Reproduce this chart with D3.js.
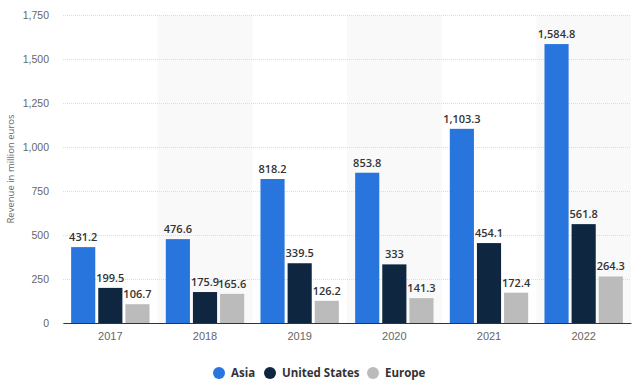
<!DOCTYPE html>
<html><head><meta charset="utf-8">
<script src="https://cdn.jsdelivr.net/npm/d3@7"></script>
<style>body{margin:0;background:#fff;}svg{display:block;font-family:"Open Sans","Noto Sans",sans-serif;}</style>
</head><body>
<svg id="c" width="640" height="390"></svg>
<script>
const years = ["2017","2018","2019","2020","2021","2022"];
const seriesNames = ["Asia","United States","Europe"];
const asia = [431.2,476.6,818.2,853.8,1103.3,1584.8];
const unitedStates = [199.5,175.9,339.5,333,454.1,561.8];
const europe = [106.7,165.6,126.2,141.3,172.4,264.3];
const yTicks = [0,250,500,750,1000,1250,1500,1750];
const colors = ["#2876dd","#0f2640","#bbbbbb"];

const svg = d3.select("#c");
const L=63, R=631, T=15, B=323;
const x = d3.scaleBand().domain(years).range([L,R]);
const y = d3.scaleLinear().domain([0,1750]).range([B,T]);
const x1 = d3.scaleBand().domain(seriesNames).range([0,x.bandwidth()]).paddingInner(0.11).paddingOuter(0.3);
const fmt = d3.format(",");

// alternating bands
svg.append("g").selectAll("rect").data(years.filter((d,i)=>i%2===1)).join("rect")
  .attr("x",d=>x(d)).attr("y",T).attr("width",x.bandwidth()).attr("height",B-T).attr("fill","#f9f9f9");

// grid
const ya = d3.axisLeft(y).tickValues(yTicks).tickFormat(d=>fmt(d)).tickSize(-(R-L)).tickPadding(10);
const gy = svg.append("g").attr("transform",`translate(${L},0)`).call(ya);
gy.select(".domain").remove();
gy.selectAll(".tick line").attr("stroke","#dcdcdc").attr("stroke-dasharray","1,1");
gy.selectAll(".tick text").attr("fill","#666").attr("font-size","10.5px").attr("text-anchor","end").attr("dx","-4");

// y title
svg.append("text").attr("transform",`translate(14,${(T+B)/2}) rotate(-90)`).attr("text-anchor","middle")
  .attr("fill","#666").attr("font-size","9.5px").text("Revenue in million euros");

const data = years.map((yr,i)=>({year:yr, vals:[asia[i],unitedStates[i],europe[i]]}));
const groups = svg.append("g").selectAll("g").data(data).join("g").attr("transform",d=>`translate(${x(d.year)},0)`);
groups.selectAll("rect").data(d=>d.vals.map((v,j)=>({k:seriesNames[j],v,j}))).join("rect")
  .attr("x",d=>x1(d.k)).attr("width",x1.bandwidth()).attr("y",d=>y(d.v)).attr("height",d=>B-y(d.v))
  .attr("fill",d=>colors[d.j]);
groups.selectAll("text").data(d=>d.vals.map((v,j)=>({k:seriesNames[j],v,j}))).join("text")
  .attr("x",d=>x1(d.k)+x1.bandwidth()/2).attr("y",d=>y(d.v)-6).attr("text-anchor","middle")
  .attr("fill","#333").attr("font-size","11px").attr("font-weight","600").text(d=>fmt(d.v));

// x axis
const xa = d3.axisBottom(x).tickSize(0).tickPadding(9);
const gx = svg.append("g").attr("transform",`translate(0,${B})`).call(xa);
gx.select(".domain").attr("stroke","#333").attr("stroke-width",1.2);
gx.selectAll(".tick text").attr("fill","#666").attr("font-size","11px");

// legend
const legX=[219,270,373];
const lg = svg.append("g").selectAll("g").data(seriesNames).join("g").attr("transform",(d,i)=>`translate(${legX[i]},373)`);
lg.append("circle").attr("r",6).attr("fill",(d,i)=>colors[i]);
lg.append("text").attr("x",12).attr("dy","0.35em").attr("fill","#333").attr("font-size","11.5px").attr("font-weight","700").text(d=>d);
</script>
</body></html>
